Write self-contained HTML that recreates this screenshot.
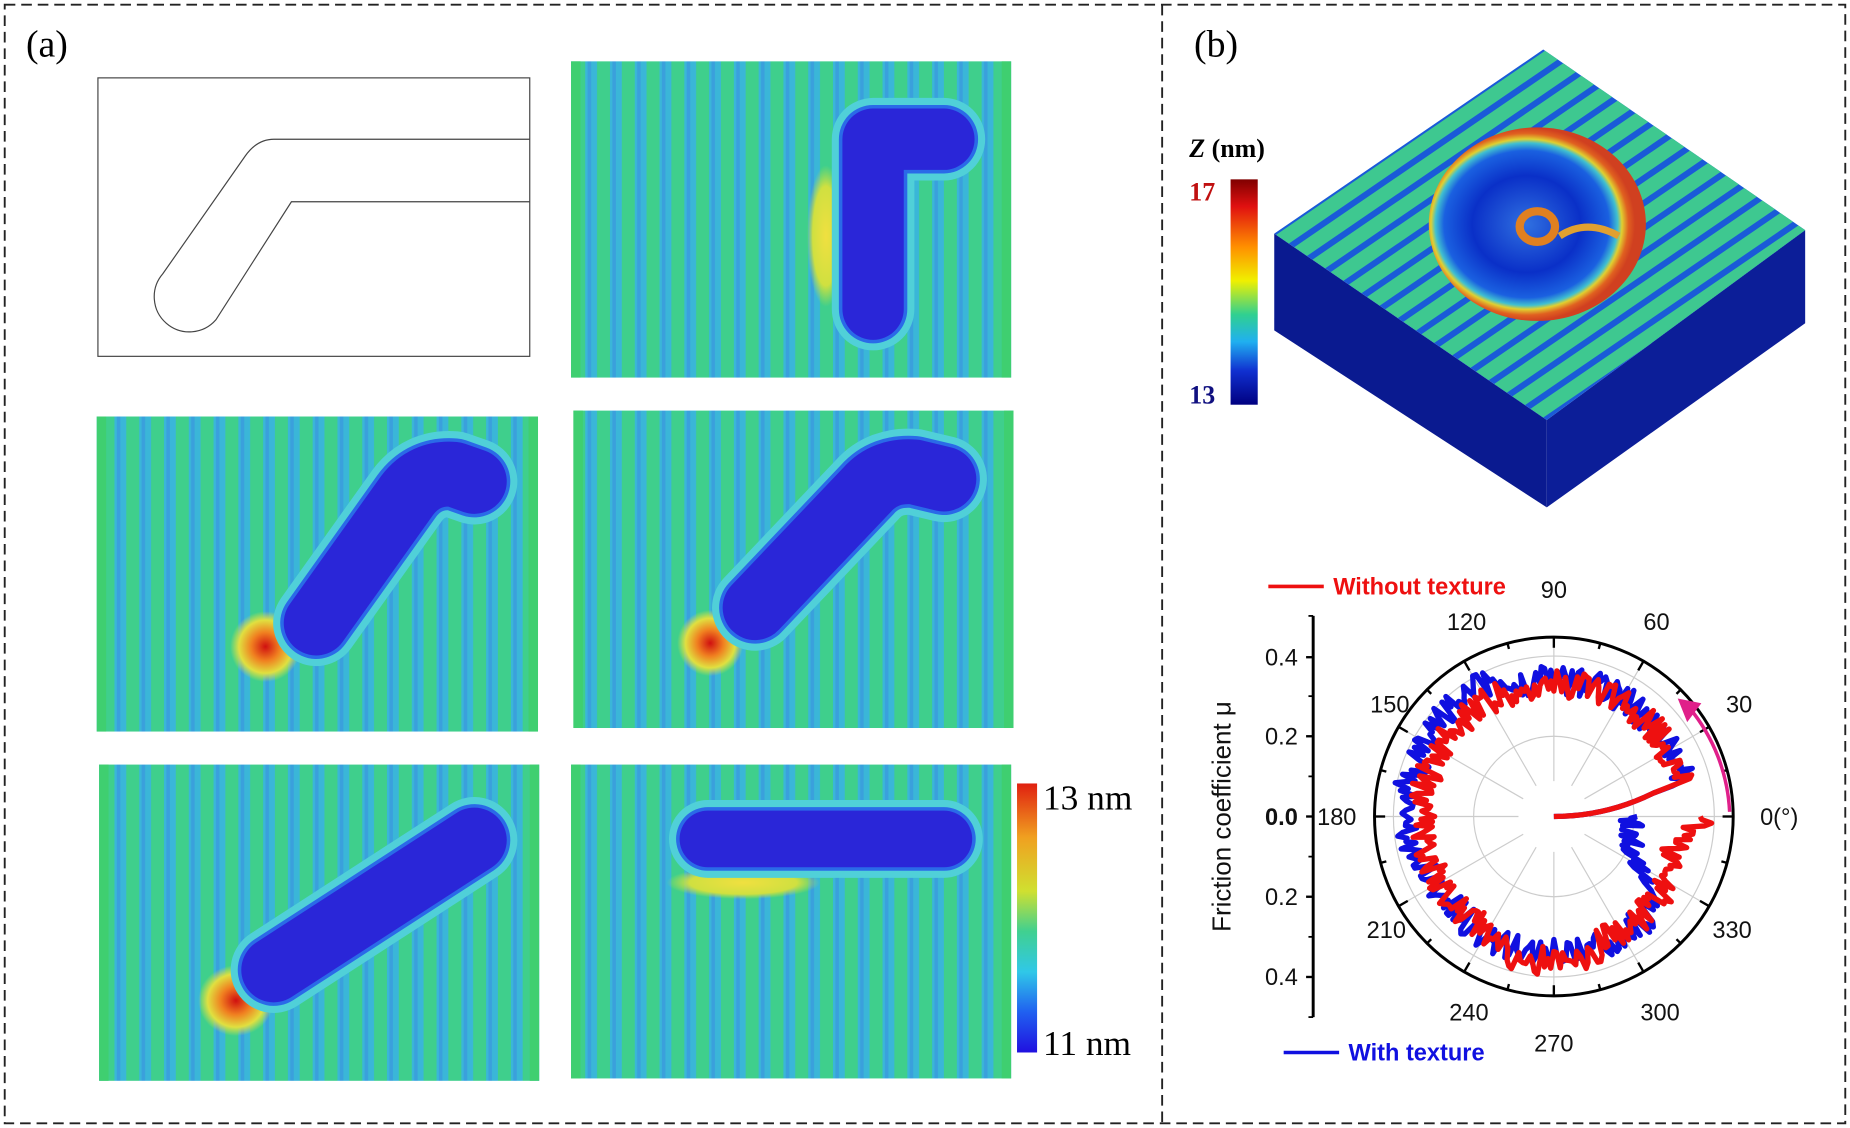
<!DOCTYPE html>
<html><head><meta charset="utf-8"><style>html,body{margin:0;padding:0;background:#fff}svg{display:block}</style></head>
<body>
<svg id="s" xmlns="http://www.w3.org/2000/svg" width="1850" height="1128" viewBox="0 0 1568 956" preserveAspectRatio="none">
<defs>
<pattern id="st" x="0" y="0" width="21" height="956" patternUnits="userSpaceOnUse">
<rect width="21" height="956" fill="#3ab6d8"/>
<rect x="2" width="11" height="956" fill="#3fcf8c"/>
<rect x="15" width="3" height="956" fill="#3a8ae0" opacity="0.5"/>
</pattern>
<linearGradient id="cb" x1="0" y1="0" x2="0" y2="1">
<stop offset="0" stop-color="#e02010"/><stop offset="0.2" stop-color="#f0a020"/><stop offset="0.4" stop-color="#d0e030"/><stop offset="0.55" stop-color="#40d090"/><stop offset="0.7" stop-color="#30c8e8"/><stop offset="0.85" stop-color="#2060f0"/><stop offset="1" stop-color="#2010e0"/></linearGradient>
<linearGradient id="cz" x1="0" y1="0" x2="0" y2="1">
<stop offset="0" stop-color="#800000"/><stop offset="0.12" stop-color="#e01010"/><stop offset="0.3" stop-color="#ff9000"/><stop offset="0.45" stop-color="#f0f000"/><stop offset="0.6" stop-color="#30d090"/><stop offset="0.72" stop-color="#20b0f0"/><stop offset="0.85" stop-color="#1030d0"/><stop offset="1" stop-color="#000080"/></linearGradient>
<radialGradient id="hot"><stop offset="0" stop-color="#d01010"/><stop offset="0.4" stop-color="#f08020"/><stop offset="0.75" stop-color="#e0e040"/><stop offset="1" stop-color="#e0e040" stop-opacity="0"/></radialGradient>
<radialGradient id="yel"><stop offset="0" stop-color="#f0e040"/><stop offset="0.7" stop-color="#d0e040"/><stop offset="1" stop-color="#c0e040" stop-opacity="0"/></radialGradient>
<radialGradient id="cr" cx="0.45" cy="0.5"><stop offset="0" stop-color="#3070e0"/><stop offset="0.5" stop-color="#0a30c8"/><stop offset="0.76" stop-color="#1a60e0"/><stop offset="0.84" stop-color="#40c0d0"/><stop offset="0.88" stop-color="#e0d030"/><stop offset="0.94" stop-color="#e06020"/><stop offset="1" stop-color="#d04020"/></radialGradient>
<clipPath id="tf"><polygon points="1308,42 1530,195 1311,356 1080,198"/></clipPath>
</defs>
<rect width="1568" height="956" fill="#fff"/>
<rect x="4" y="4" width="1560" height="948" fill="none" stroke="#222" stroke-width="1.6" stroke-dasharray="9,5"/>
<line x1="985" y1="4" x2="985" y2="952" stroke="#222" stroke-width="1.6" stroke-dasharray="9,5"/>
<text x="22" y="48" font-family="Liberation Serif, serif" font-size="32">(a)</text>
<text x="1012" y="48" font-family="Liberation Serif, serif" font-size="32">(b)</text>
<rect x="83" y="66" width="366" height="236" fill="none" stroke="#444" stroke-width="1"/>
<path d="M449 118 L232 118 Q218 118 208 132 L138 232 A25 25 0 0 0 183 271 L247 171 L449 171" fill="none" stroke="#444" stroke-width="1"/>
<g id="panels"></g>
<rect x="862" y="664" width="17" height="228" fill="url(#cb)"/>
<text x="884" y="686" font-family="Liberation Serif, serif" font-size="30">13 nm</text>
<text x="884" y="894" font-family="Liberation Serif, serif" font-size="30">11 nm</text>
<polygon points="1080,198 1311,356 1311,430 1080,280" fill="#0a1a90"/>
<polygon points="1311,356 1530,195 1530,274 1311,430" fill="#0c1e98"/>
<polygon points="1308,42 1530,195 1311,356 1080,198" fill="#1a5ad8"/>
<g clip-path="url(#tf)" id="stripes"></g>
<ellipse cx="1303" cy="190" rx="92" ry="82" fill="url(#cr)"/>
<ellipse cx="1303" cy="192" rx="15" ry="13" fill="none" stroke="#e08020" stroke-width="7"/>
<path d="M1322 200 Q1345 185 1372 200" fill="none" stroke="#e0a030" stroke-width="6"/>
<text x="1008" y="133" font-family="Liberation Serif, serif" font-size="22" font-weight="bold"><tspan font-style="italic">Z</tspan> (nm)</text>
<rect x="1043" y="152" width="23" height="191" fill="url(#cz)"/>
<text x="1008" y="170" font-family="Liberation Serif, serif" font-size="22" font-weight="bold" fill="#c01010">17</text>
<text x="1008" y="342" font-family="Liberation Serif, serif" font-size="22" font-weight="bold" fill="#101080">13</text>
<g id="polar" font-family="Liberation Sans, sans-serif" font-size="20" fill="#111"></g>
</svg>
<script>
var NS="http://www.w3.org/2000/svg";
function el(p,t,a,txt){var e=document.createElementNS(NS,t);for(var k in a)e.setAttribute(k,a[k]);if(txt!=null)e.textContent=txt;p.appendChild(e);return e;}
var seed=7;function rnd(){seed=(seed*16807)%2147483647;return seed/2147483647;}
var P=document.getElementById('panels');
var panels=[
 [484,52,373,268,"M740 262 L740 118 L800 118",52,[[700,200,16,60,'yel']]],
 [82,353,374,267,"M268 528 L345 420 Q360 400 385 402 L402 408",55,[[225,548,30,30,'hot']]],
 [486,348,373,269,"M640 515 L735 415 Q750 398 775 400 L800 406",55,[[602,545,28,28,'hot']]],
 [84,648,373,268,"M232 822 L402 712",55,[[200,848,32,30,'hot']]],
 [484,648,373,266,"M600 711 L800 711",48,[[630,748,65,14,'yel']]]
];
panels.forEach(function(p){
 el(P,'rect',{x:p[0],y:p[1],width:p[2],height:p[3],fill:'url(#st)'});
 el(P,'rect',{x:p[0],y:p[1],width:8,height:p[3],fill:'#3fcf70'});
 el(P,'rect',{x:p[0]+p[2]-8,y:p[1],width:8,height:p[3],fill:'#3fcf70'});
 p[6].forEach(function(h){el(P,'ellipse',{cx:h[0],cy:h[1],rx:h[2],ry:h[3],fill:'url(#'+h[4]+')'});});
 el(P,'path',{d:p[4],fill:'none',stroke:'#50d0d8','stroke-width':p[5]+18,'stroke-linecap':'round','stroke-linejoin':'round'});
 el(P,'path',{d:p[4],fill:'none',stroke:'#2a6ae8','stroke-width':p[5]+6,'stroke-linecap':'round','stroke-linejoin':'round'});
 el(P,'path',{d:p[4],fill:'none',stroke:'#2a26d8','stroke-width':p[5],'stroke-linecap':'round','stroke-linejoin':'round'});
});
var S=document.getElementById('stripes');
var L=[1080,198],B=[1311,356],T=[1308,42];
var n=15;
for(var i=0;i<n;i++){
 var t=(i+0.1)/n, t2=(i+0.8)/n;
 var a=[L[0]+t*(B[0]-L[0]),L[1]+t*(B[1]-L[1])], b=[L[0]+t2*(B[0]-L[0]),L[1]+t2*(B[1]-L[1])];
 var dx=(T[0]-L[0])*1.1, dy=(T[1]-L[1])*1.1;
 el(S,'polygon',{points:[a,[a[0]+dx,a[1]+dy],[b[0]+dx,b[1]+dy],b].map(function(q){return q.join(',')}).join(' '),fill:'#3ec890'});
}
var G=document.getElementById('polar');
var cx=1317,cy=692,R=152,k=340;
[68,136].forEach(function(r){el(G,'circle',{cx:cx,cy:cy,r:r,fill:'none',stroke:'#ccc','stroke-width':1});});
for(var d=0;d<360;d+=30){var a=d*Math.PI/180;el(G,'line',{x1:cx+30*Math.cos(a),y1:cy-30*Math.sin(a),x2:cx+R*Math.cos(a),y2:cy-R*Math.sin(a),stroke:'#ccc','stroke-width':1});}
el(G,'circle',{cx:cx,cy:cy,r:R,fill:'none',stroke:'#000','stroke-width':2.5});
for(var d=0;d<360;d+=15){var a=d*Math.PI/180,l=d%30?5:9;el(G,'line',{x1:cx+R*Math.cos(a),y1:cy-R*Math.sin(a),x2:cx+(R-l)*Math.cos(a),y2:cy-(R-l)*Math.sin(a),stroke:'#000','stroke-width':2});}
function curve(col,fn,sd){seed=sd;var pts=[];for(var d=0;d<=360;d+=1.2){var r=fn(d);var a=d*Math.PI/180;pts.push((cx+r*k*Math.cos(a)).toFixed(1)+','+(cy-r*k*Math.sin(a)).toFixed(1));}
 el(G,'polyline',{points:pts.join(' '),fill:'none',stroke:col,'stroke-width':4.5,'stroke-linejoin':'round'});}
curve('#1010e0',function(d){if(d<14)return 0.27*d/14;var b=0.34;if(d>110&&d<200)b=0.37;if(d>335)b=0.2;else if(d>320)b=0.2+(335-d)/15*0.13;return b+(rnd()-0.5)*0.07;},11);
curve('#ee1010',function(d){if(d<14)return 0.27*d/14;var b=0.33;if(d>250&&d<290)b=0.36;if(d>340)b=0.3+(d-340)/20*0.07;return b+(rnd()-0.5)*0.07;},29);
el(G,'path',{d:'M1466 688 A150 150 0 0 0 1432 600',fill:'none',stroke:'#e0208a','stroke-width':3});
el(G,'polygon',{points:'1422,592 1442,596 1430,612',fill:'#e0208a'});
el(G,'line',{x1:1113,y1:522,x2:1113,y2:862,stroke:'#000','stroke-width':2.5});
[[557,'0.4'],[624,'0.2'],[692,'0.0'],[760,'0.2'],[828,'0.4']].forEach(function(v){el(G,'line',{x1:1107,y1:v[0],x2:1113,y2:v[0],stroke:'#000','stroke-width':2});
 var t=el(G,'text',{x:1100,y:v[0]+7,'text-anchor':'end'},v[1]);if(v[1]=='0.0')t.setAttribute('font-weight','bold');});
[[590],[658],[726],[794],[522],[862]].forEach(function(v){el(G,'line',{x1:1109,y1:v[0],x2:1113,y2:v[0],stroke:'#000','stroke-width':1.5});});
el(G,'text',{x:1043,y:692,'text-anchor':'middle',transform:'rotate(-90 1043 692)','font-size':22},'Friction coefficient  μ');
[['90',1317,507],['120',1243,534],['60',1404,534],['150',1178,604],['30',1474,604],['180',1133,699],['0(°)',1508,699],['210',1175,795],['330',1468,795],['240',1245,865],['300',1407,865],['270',1317,891]].forEach(function(v){el(G,'text',{x:v[1],y:v[2],'text-anchor':'middle'},v[0]);});
el(G,'line',{x1:1075,y1:497,x2:1122,y2:497,stroke:'#ee1010','stroke-width':3});
el(G,'text',{x:1130,y:504,fill:'#ee1010','font-weight':'bold'},'Without texture');
el(G,'line',{x1:1088,y1:892,x2:1135,y2:892,stroke:'#1010e0','stroke-width':3});
el(G,'text',{x:1143,y:899,fill:'#1010e0','font-weight':'bold'},'With texture');
</script>
</body></html>
